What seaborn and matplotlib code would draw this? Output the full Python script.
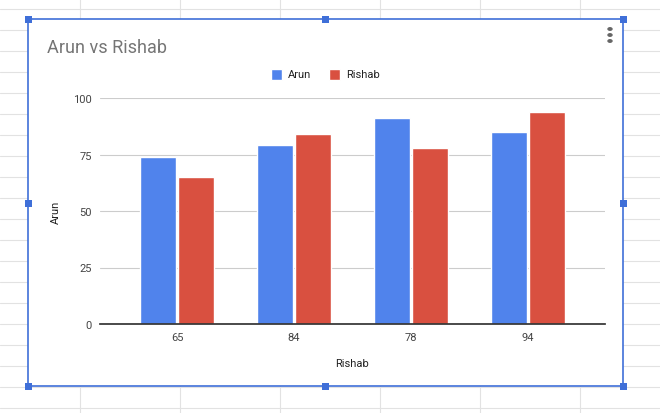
import seaborn as sns
import matplotlib.pyplot as plt
import pandas as pd
from matplotlib.patches import Rectangle

categories = ['65', '84', '78', '94']
arun = [74, 79, 91, 85]
rishab = [65, 84, 78, 94]

df = pd.DataFrame({
    'Rishab': categories * 2,
    'value': arun + rishab,
    'series': ['Arun'] * 4 + ['Rishab'] * 4,
})

sns.set_theme(style='white')
plt.rcParams['font.family'] = ['Roboto', 'DejaVu Sans']

W, H = 660, 414
fig = plt.figure(figsize=(6.6, 4.14), dpi=100, facecolor='white')

# spreadsheet grid behind the chart
for x in [80, 180, 280, 380, 480, 580]:
    fig.add_artist(plt.Line2D([x / W, x / W], [0, 1], color='#e2e2e2', lw=0.8, zorder=0))
for y in [10, 31, 52, 73, 94, 115, 136, 157, 178, 199, 220, 241, 262, 283, 304, 325, 346, 367, 388, 409]:
    fig.add_artist(plt.Line2D([0, 1], [1 - y / H, 1 - y / H], color='#e2e2e2', lw=0.8, zorder=0))

fig.add_artist(Rectangle((28 / W, 1 - 387 / H), 595 / W, 367 / H, transform=fig.transFigure,
                         facecolor='white', edgecolor='#3f6fd8', lw=1.2, zorder=1))
for hx, hy in [(28, 20), (325, 20), (623, 20), (28, 204), (623, 204), (28, 387), (325, 387), (623, 387)]:
    fig.add_artist(Rectangle(((hx - 3.5) / W, 1 - (hy + 3.5) / H), 7 / W, 7 / H,
                             transform=fig.transFigure, facecolor='#3f6fd8', edgecolor='none', zorder=2))
for dy in [30, 36, 42]:
    fig.add_artist(plt.Circle((610 / W, 1 - dy / H), 0.003, transform=fig.transFigure,
                              color='#666666', zorder=2))

ax = fig.add_axes([100 / W, 1 - 325 / H, 505 / W, 226 / H])
ax.set_zorder(3)
ax.patch.set_alpha(0)
sns.barplot(data=df, x='Rishab', y='value', hue='series', order=categories,
            palette=['#5083ec', '#d95040'], saturation=1, width=0.64, gap=0.04,
            ax=ax, legend=False)

ax.set_xlim(-0.66, 3.66)
ax.set_ylim(0, 100)
ax.set_yticks([0, 25, 50, 75, 100])
ax.grid(axis='y', color='#cccccc', lw=0.8)
ax.set_axisbelow(True)
for s in ['top', 'right', 'left']:
    ax.spines[s].set_visible(False)
ax.spines['bottom'].set_color('#333333')
ax.tick_params(axis='both', length=0, labelsize=8, colors='#444444', pad=6)
ax.set_xlabel('')
ax.set_ylabel('')
fig.text(352 / W, 1 - 364 / H, 'Rishab', fontsize=8, color='#222222', ha='center', va='center', zorder=4)
fig.text(56 / W, 1 - 212 / H, 'Arun', fontsize=8, color='#222222', rotation=90,
         ha='center', va='center', zorder=4)

fig.text(47 / W, 1 - 48 / H, 'Arun vs Rishab', fontsize=13, color='#757575', va='center', zorder=4)
fig.add_artist(Rectangle((271 / W, 1 - 81 / H), 11 / W, 11 / H, transform=fig.transFigure,
                         facecolor='#5083ec', zorder=4))
fig.text(288 / W, 1 - 75 / H, 'Arun', fontsize=8, color='#222222', va='center', zorder=4)
fig.add_artist(Rectangle((329 / W, 1 - 81 / H), 11 / W, 11 / H, transform=fig.transFigure,
                         facecolor='#d95040', zorder=4))
fig.text(346 / W, 1 - 75 / H, 'Rishab', fontsize=8, color='#222222', va='center', zorder=4)

fig.savefig('out.png', dpi=100, facecolor='white')
